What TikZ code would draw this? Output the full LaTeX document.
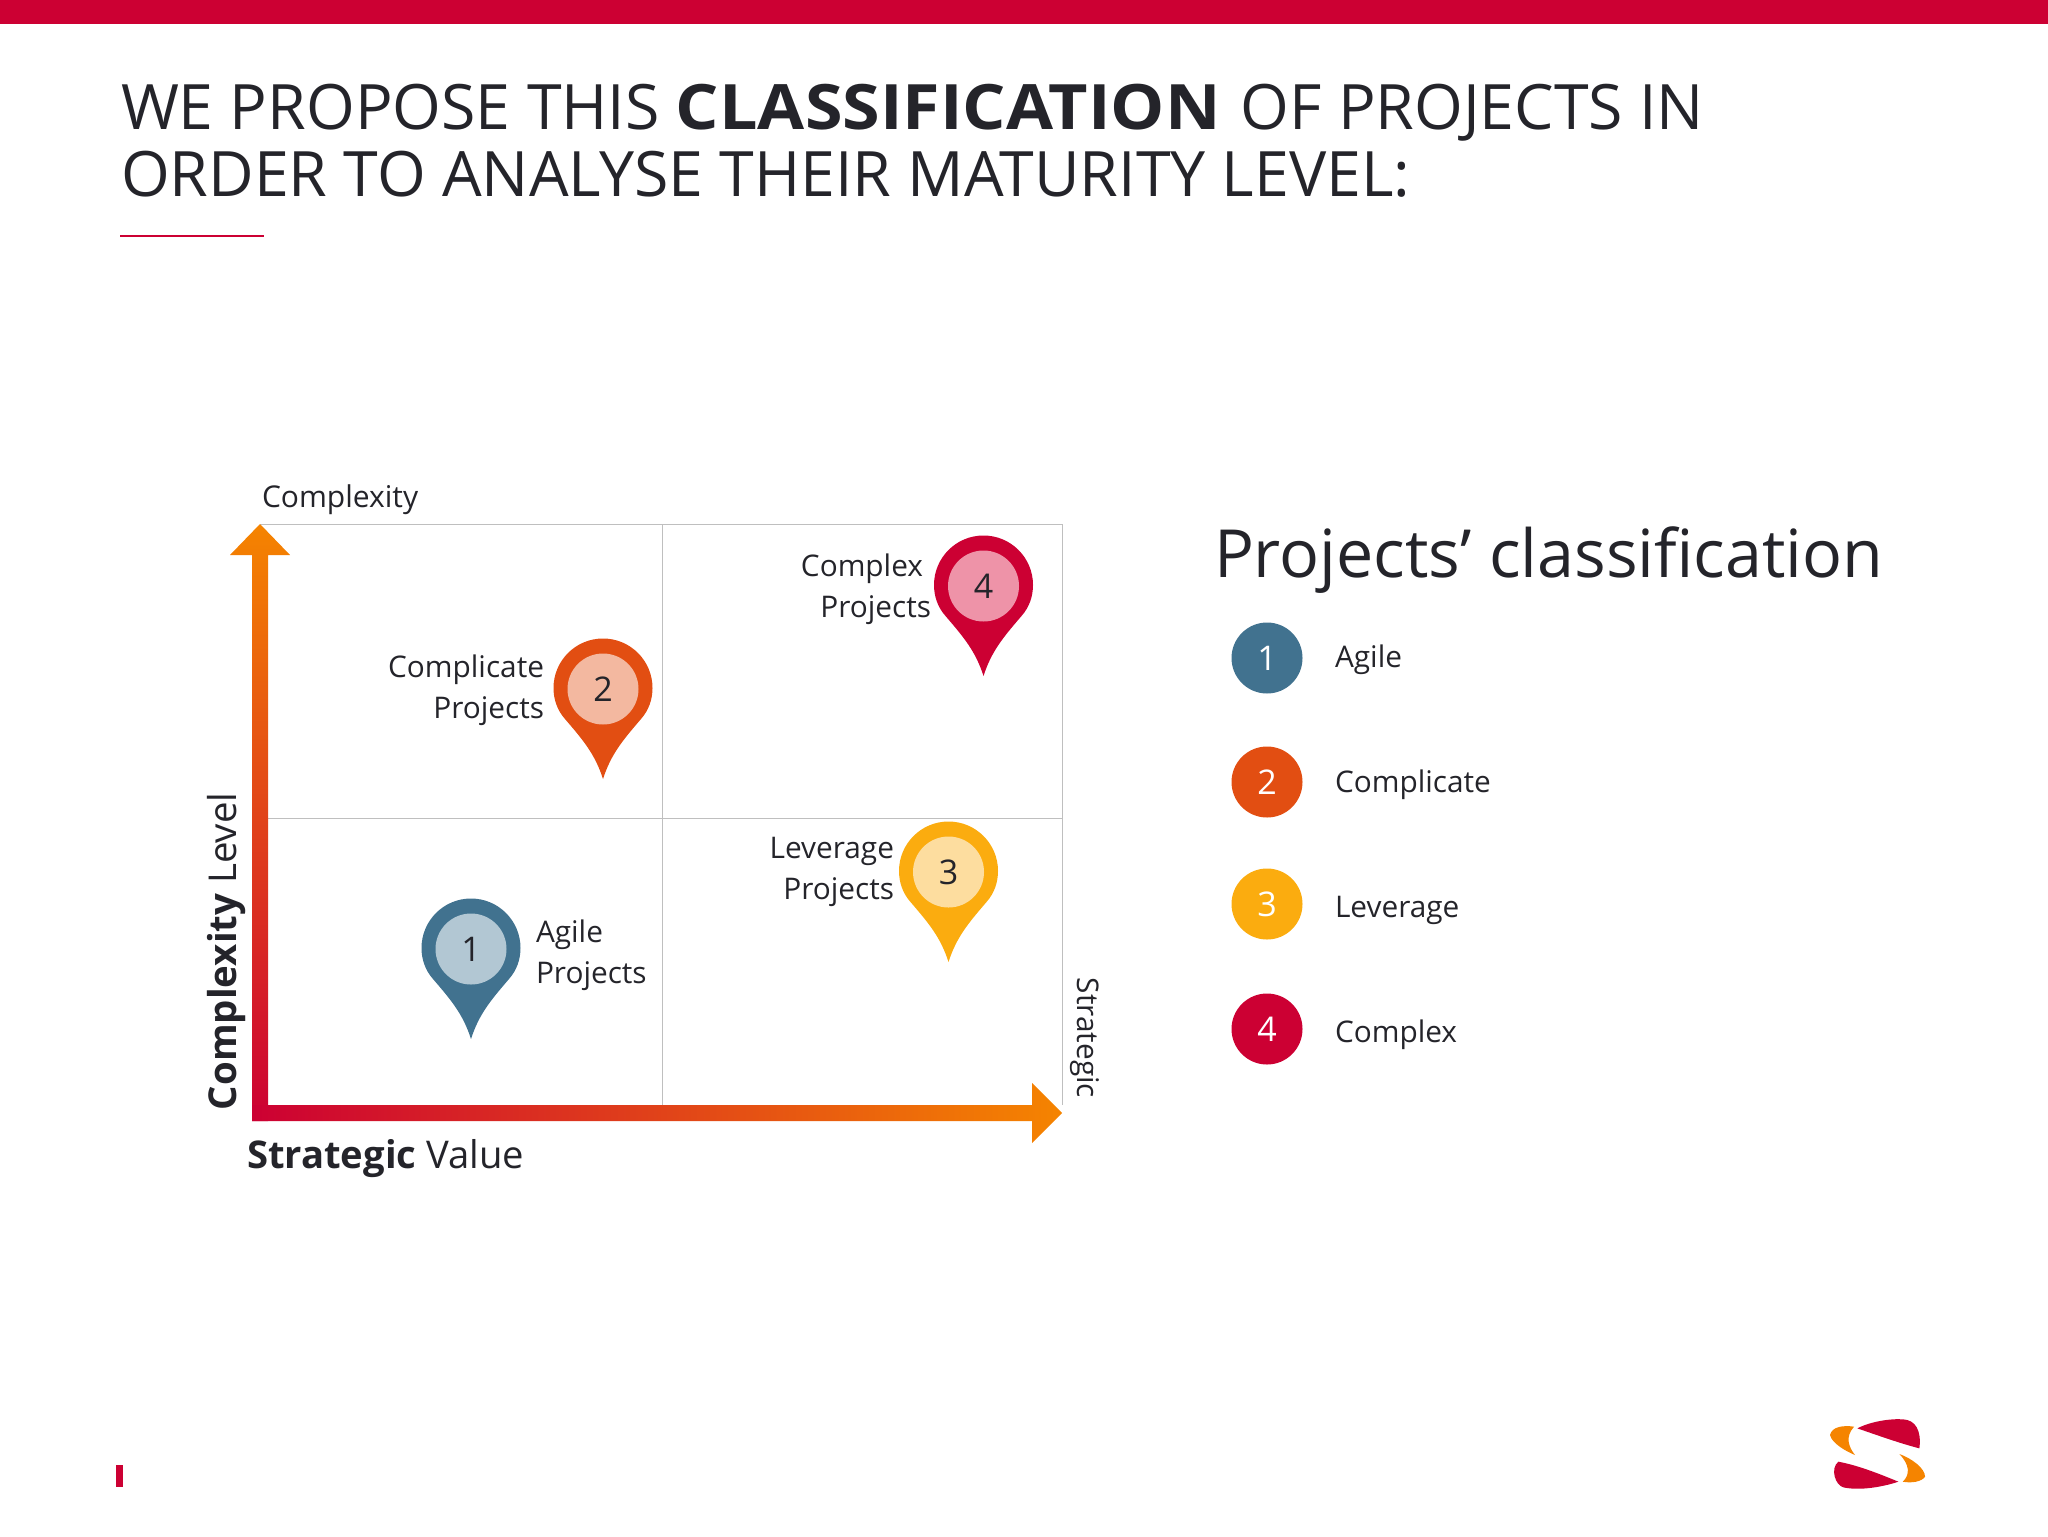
\documentclass[tikz,border=0pt]{standalone}
\usepackage{fontspec}
\setmainfont{Open Sans}
\definecolor{sbred}{HTML}{CC0033}
\definecolor{sborange}{HTML}{F58400}
\definecolor{sbink}{HTML}{24242A}
\definecolor{pinblue}{HTML}{41728F}
\definecolor{pinrust}{HTML}{E24E12}
\definecolor{pinamber}{HTML}{FBAC0F}
\definecolor{paleblue}{HTML}{B2C7D3}
\definecolor{palerust}{HTML}{F3B8A0}
\definecolor{paleamber}{HTML}{FDDD9F}
\definecolor{palered}{HTML}{EE93A8}
\tikzset{
    every node/.style = {inner sep=0pt, outer sep=0pt, text=sbink},
    gridline/.style = {draw=black!25, line width=0.5pt},
    pinlabel/.style = {font=\fontsize{14.9}{20.5}\selectfont, align=right, anchor=east},
    keylabel/.style = {font=\fontsize{14.9}{17}\selectfont, anchor=west},
    keydot/.style = {circle, minimum size=35.5pt, text=white, font=\fontsize{17}{18}\selectfont}
}
\begin{document}
\begin{tikzpicture}[x=0.5pt,y=-0.5pt]
    \useasboundingbox (0,0) rectangle (2048,1536);
    \fill[sbred] (0,0) rectangle (2048,24);
    \node (title) [anchor=base west, align=left, font=\fontsize{31.3}{33.5}\selectfont] at (121,196.5)
        {WE PROPOSE THIS \textbf{\addfontfeature{FakeStretch=1.09}CLASSIFICATION}\kern2pt{} OF PROJECTS IN\\ORDER TO ANALYSE THEIR MATURITY LEVEL:};
    \fill[sbred] (120,235) rectangle (264,237);
    \fill[sbred] (116,1465) rectangle (123,1487);
    % quadrant lines
    \draw[gridline] (260,524) -- (1062,524) -- (1062,1105);
    \draw[gridline] (268,818) -- (1062,818);
    \draw[gridline] (662,524) -- (662,1105);
    % axes
    \shade[bottom color=sbred, top color=sborange] (252,1121) -- (252,555) -- (230,555) -- (260,524)
        -- (290,555) -- (268,555) -- (268,1121) -- cycle;
    \shade[left color=sbred, right color=sborange] (252,1105) -- (1032,1105) -- (1032,1083) -- (1062,1113)
        -- (1032,1143) -- (1032,1121) -- (252,1121) -- cycle;
    \node (topaxis) [anchor=base west, font=\fontsize{15}{17}\selectfont] at (262,507) {Complexity};
    \node (rightaxis) [rotate=-90, font=\fontsize{14.9}{17}\selectfont] at (1085,1038) {Strategic};
    \node (yaxis) [anchor=base west, rotate=90, font=\fontsize{19.2}{20}\selectfont] at (236,1110) {\textbf{Complexity} Level};
    \node (xaxis) [anchor=base west, font=\fontsize{19.1}{20}\selectfont] at (247,1168) {\textbf{Strategic} Value};
    % pins
    \foreach \cx/\cy/\tone/\pale/\num in {471/948/pinblue/paleblue/1, 603/688/pinrust/palerust/2,
        948.5/871/pinamber/paleamber/3, 983.5/585/sbred/palered/4} {
        \fill[\tone] (\cx,\cy+91) .. controls (\cx-8,\cy+66) and (\cx-20,\cy+52) .. (\cx-38,\cy+31)
            .. controls (\cx-46,\cy+22) and (\cx-49.5,\cy+11) .. (\cx-49.5,\cy)
            arc[start angle=180, end angle=0, radius=24.75pt]
            .. controls (\cx+49.5,\cy+11) and (\cx+46,\cy+22) .. (\cx+38,\cy+31)
            .. controls (\cx+20,\cy+52) and (\cx+8,\cy+66) .. (\cx,\cy+91) -- cycle;
        \node[circle, fill=\pale, minimum size=35.5pt, font=\fontsize{17}{18}\selectfont] (pin\num) at (\cx,\cy+1) {\num};
    }
    \node (agilepin) [pinlabel, align=left, anchor=west] at (536,955) {Agile\\Projects};
    \node (complicatepin) [pinlabel] at (544,690) {Complicate\\Projects};
    \node (leveragepin) [pinlabel] at (894,872) {Leverage\\Projects};
    \node (complexpin) [pinlabel] at (931,589) {Complex\kern4pt\\Projects};
    % legend
    \node (keyhead) [anchor=base west, font=\fontsize{33.2}{36}\selectfont] at (1214,577) {Projects’ classification};
    \node (dot1) [keydot, fill=pinblue] at (1267,658) {1};
    \node (dot2) [keydot, fill=pinrust] at (1267,782) {2};
    \node (dot3) [keydot, fill=pinamber] at (1267,904) {3};
    \node (dot4) [keydot, fill=sbred] at (1267,1029) {4};
    \node (key1) [keylabel] at (1335,660) {Agile};
    \node (key2) [keylabel] at (1335,785) {Complicate};
    \node (key3) [keylabel] at (1335,910) {Leverage};
    \node (key4) [keylabel] at (1335,1035) {Complex};
    % logo
    \begin{scope}[shift={(1780,1380)}, x=0.1667pt, y=-0.1667pt]
        \fill[sbred] (232,145) .. controls (270,125) and (330,115) .. (370,118) .. controls (405,120) and (425,150) .. (418,205) .. controls (360,190) and (290,165) .. (232,145) -- cycle;
        \fill[sbred] (175,245) .. controls (150,265) and (165,315) .. (190,322) .. controls (240,333) and (310,320) .. (355,305) .. controls (295,280) and (230,255) .. (175,245) -- cycle;
        \fill[sborange] (222,140) .. controls (190,135) and (155,140) .. (150,165) .. controls (155,190) and (200,215) .. (225,225) .. controls (205,200) and (195,170) .. (222,140) -- cycle;
        \fill[sborange] (358,222) .. controls (395,235) and (435,265) .. (435,290) .. controls (425,305) and (395,310) .. (368,305) .. controls (390,285) and (390,255) .. (358,222) -- cycle;
    \end{scope}
\end{tikzpicture}
\end{document}
